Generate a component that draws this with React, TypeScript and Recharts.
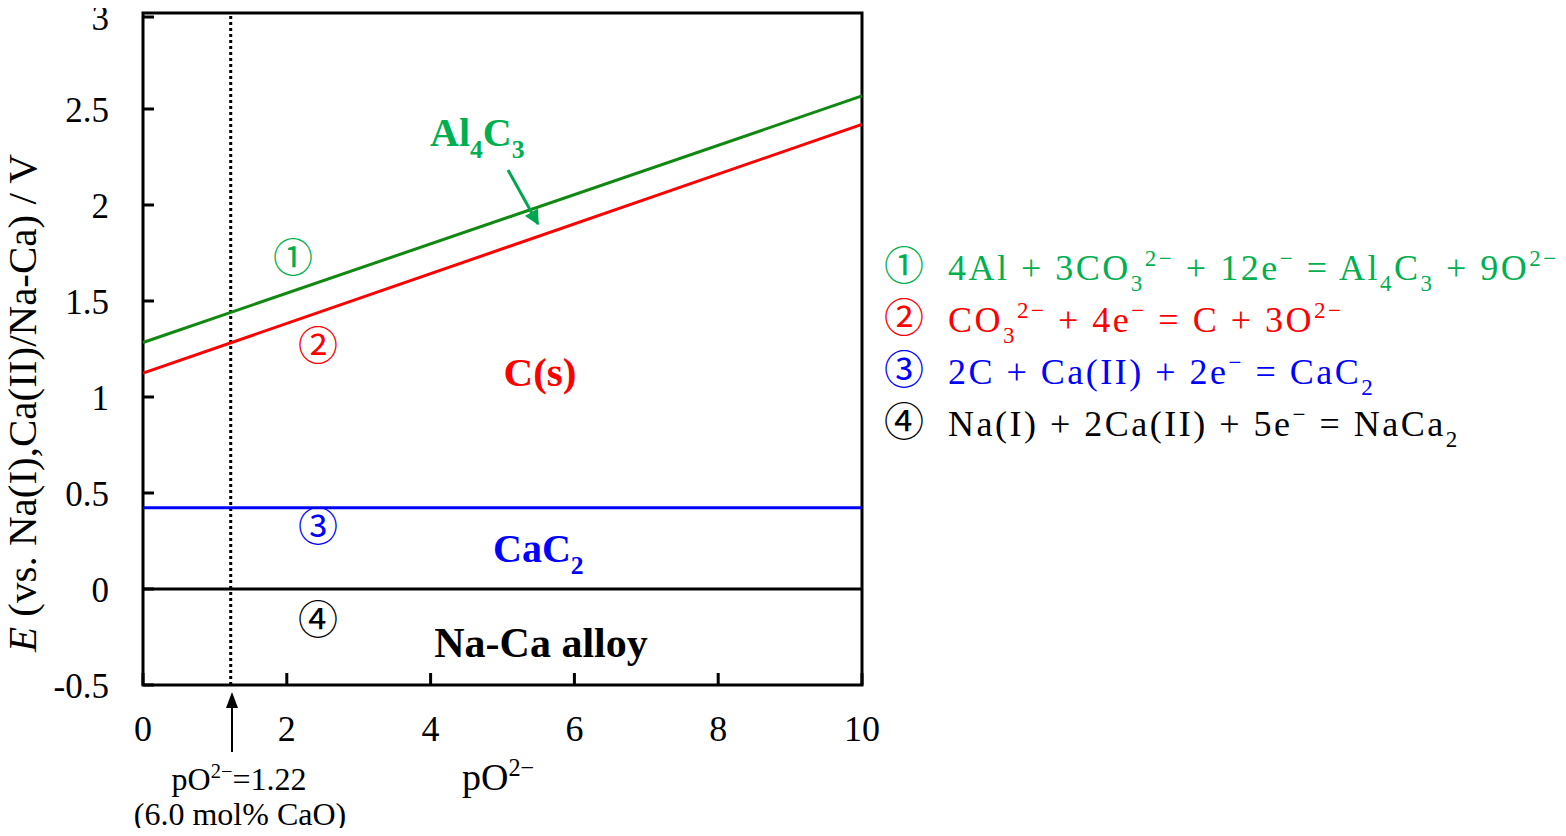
import { LineChart, Line, XAxis, YAxis, ReferenceLine, ReferenceArea } from 'recharts'

// pO2- axis and the four boundary lines (E in V)
const pO = [0, 10]
const al4c3Line = [1.284, 2.568]
const carbonLine = [1.124, 2.42]
const cac2Line = [0.423, 0.423]
const naCaLine = [0, 0]
const caoPO = 1.22

const xTicks = [0, 2, 4, 6, 8, 10]
const yTicks = [-0.5, 0, 0.5, 1, 1.5, 2, 2.5, 3]

type Seg = [string, ('sub' | 'sup')?]

const legendItems: { mark: string; color: string; segs: Seg[] }[] = [
  {
    mark: '①',
    color: '#00b050',
    segs: [['4Al + 3CO'], ['3', 'sub'], ['2−', 'sup'], [' + 12e'], ['−', 'sup'], [' = Al'], ['4', 'sub'], ['C'], ['3', 'sub'], [' + 9O'], ['2−', 'sup']],
  },
  {
    mark: '②',
    color: '#ff0000',
    segs: [['CO'], ['3', 'sub'], ['2−', 'sup'], [' + 4e'], ['−', 'sup'], [' = C + 3O'], ['2−', 'sup']],
  },
  {
    mark: '③',
    color: '#0000ff',
    segs: [['2C + Ca(II) + 2e'], ['−', 'sup'], [' = CaC'], ['2', 'sub']],
  },
  {
    mark: '④',
    color: '#000000',
    segs: [['Na(I) + 2Ca(II) + 5e'], ['−', 'sup'], [' = NaCa'], ['2', 'sub']],
  },
]

const SERIF = '"Liberation Serif", "Times New Roman", serif'
const CIRCLE = '"Noto Sans CJK JP", "DejaVu Sans", sans-serif'

const W = 1550
const H = 820
const PLOT_LEFT = 135
const PLOT_BOTTOM = 677

function Rich({ segs, size }: { segs: Seg[]; size: number }) {
  let cur = 0
  return (
    <>
      {segs.map(([t, k], i) => {
        const target = k === 'sub' ? size * 0.3 : k === 'sup' ? -size * 0.38 : 0
        const dy = target - cur
        cur = target
        return (
          <tspan key={i} dy={dy} fontSize={k ? size * 0.64 : size}>
            {t}
          </tspan>
        )
      })}
    </>
  )
}

const XTick = (props: any) => {
  const { x, payload } = props
  return (
    <g>
      <line x1={x} x2={x} y1={PLOT_BOTTOM} y2={PLOT_BOTTOM - 12} stroke="#000" strokeWidth={3} />
      <text x={x} y={PLOT_BOTTOM + 56} textAnchor="middle" fontFamily={SERIF} fontSize={36} fill="#000">
        {payload.value}
      </text>
    </g>
  )
}

const YTick = (props: any) => {
  const { y, payload } = props
  return (
    <g>
      <line x1={PLOT_LEFT} x2={PLOT_LEFT + 11} y1={y} y2={y} stroke="#000" strokeWidth={3} />
      <text x={PLOT_LEFT - 34} y={y + 13} textAnchor="end" fontFamily={SERIF} fontSize={35} fill="#000">
        {payload.value}
      </text>
    </g>
  )
}

export default function App() {
  const data = pO.map((p, i) => ({
    p,
    al: al4c3Line[i],
    c: carbonLine[i],
    cac2: cac2Line[i],
    naca: naCaLine[i],
  }))

  return (
    <div style={{ position: 'relative', width: W, height: H }}>
      <LineChart width={W} height={H} data={data} margin={{ top: 5, right: 696, bottom: 0, left: 0 }}>
        <XAxis
          type="number"
          dataKey="p"
          domain={[0, 10]}
          ticks={xTicks}
          height={143}
          axisLine={false}
          tickLine={false}
          tickSize={0}
          tickMargin={0}
          tick={(p: any) => <XTick {...p} />}
        />
        <YAxis
          type="number"
          domain={[-0.5, 3]}
          ticks={yTicks}
          width={135}
          axisLine={false}
          tickLine={false}
          tickSize={0}
          tickMargin={0}
          tick={(p: any) => <YTick {...p} />}
        />
        <ReferenceLine x={caoPO} stroke="#000" strokeWidth={3} strokeDasharray="3 3" />
        <Line type="linear" dataKey="naca" stroke="#000" strokeWidth={3} dot={false} isAnimationActive={false} />
        <Line type="linear" dataKey="cac2" stroke="#0000ff" strokeWidth={3} dot={false} isAnimationActive={false} />
        <Line type="linear" dataKey="c" stroke="#ff0000" strokeWidth={3} dot={false} isAnimationActive={false} />
        <Line type="linear" dataKey="al" stroke="#118811" strokeWidth={3} dot={false} isAnimationActive={false} />
        <ReferenceArea x1={0} x2={10} y1={-0.5} y2={3} fill="none" stroke="#000" strokeWidth={3} />
      </LineChart>

      <svg
        width={1566}
        height={836}
        style={{ position: 'absolute', left: -8, top: -8, pointerEvents: 'none' }}
        fontFamily={SERIF}
      >
        <defs>
          <marker id="headGreen" viewBox="0 0 10 10" refX="9" refY="5" markerWidth="5" markerHeight="5" orient="auto">
            <path d="M0,0 L10,5 L0,10 z" fill="#00a550" />
          </marker>
        </defs>

        {/* y axis title */}
        <text transform="translate(36,403) rotate(-90)" textAnchor="middle" fontSize={41} fill="#000">
          <tspan fontStyle="italic">E</tspan> (vs. Na(I),Ca(II)/Na-Ca) / V
        </text>

        {/* x axis title */}
        <text x={462} y={790} fontSize={38} fill="#000">
          <Rich segs={[['pO'], ['2−', 'sup']]} size={38} />
        </text>

        {/* CaO composition marker */}
        <line x1={232} x2={232} y1={752} y2={704} stroke="#000" strokeWidth={2} />
        <path d="M232,692 L238,708 L226,708 z" fill="#000" />
        <text x={239} y={790} textAnchor="middle" fontSize={32} fill="#000">
          <Rich segs={[['pO'], ['2−', 'sup'], ['=1.22']]} size={32} />
        </text>
        <text x={240} y={825} textAnchor="middle" fontSize={32} fill="#000">
          (6.0 mol% CaO)
        </text>

        {/* line numbers inside plot */}
        <text x={293} y={272} textAnchor="middle" fontFamily={CIRCLE} fontSize={40} fill="#00b050">①</text>
        <text x={318} y={360} textAnchor="middle" fontFamily={CIRCLE} fontSize={40} fill="#ff0000">②</text>
        <text x={318} y={541} textAnchor="middle" fontFamily={CIRCLE} fontSize={40} fill="#0000ff">③</text>
        <text x={318} y={634} textAnchor="middle" fontFamily={CIRCLE} fontSize={40} fill="#000">④</text>

        {/* region labels */}
        <text x={430} y={146} fontSize={40} fontWeight="bold" fill="#00b050">
          <Rich segs={[['Al'], ['4', 'sub'], ['C'], ['3', 'sub']]} size={40} />
        </text>
        <line x1={508} y1={170} x2={538} y2={224} stroke="#00a550" strokeWidth={3} markerEnd="url(#headGreen)" />
        <text x={540} y={386} textAnchor="middle" fontSize={41} fontWeight="bold" fill="#ff0000">C(s)</text>
        <text x={493} y={562} fontSize={40} fontWeight="bold" fill="#0000ff">
          <Rich segs={[['CaC'], ['2', 'sub']]} size={40} />
        </text>
        <text x={541} y={657} textAnchor="middle" fontSize={42} fontWeight="bold" fill="#000">Na-Ca alloy</text>

        {/* reaction legend */}
        {legendItems.map((it, i) => (
          <g key={it.mark}>
            <text x={884} y={280 + i * 52} fontFamily={CIRCLE} fontSize={40} fill={it.color}>
              {it.mark}
            </text>
            <text x={948} y={280 + i * 52} fontSize={36} letterSpacing={2.5} fill={it.color}>
              <Rich segs={it.segs} size={36} />
            </text>
          </g>
        ))}
      </svg>
    </div>
  )
}
